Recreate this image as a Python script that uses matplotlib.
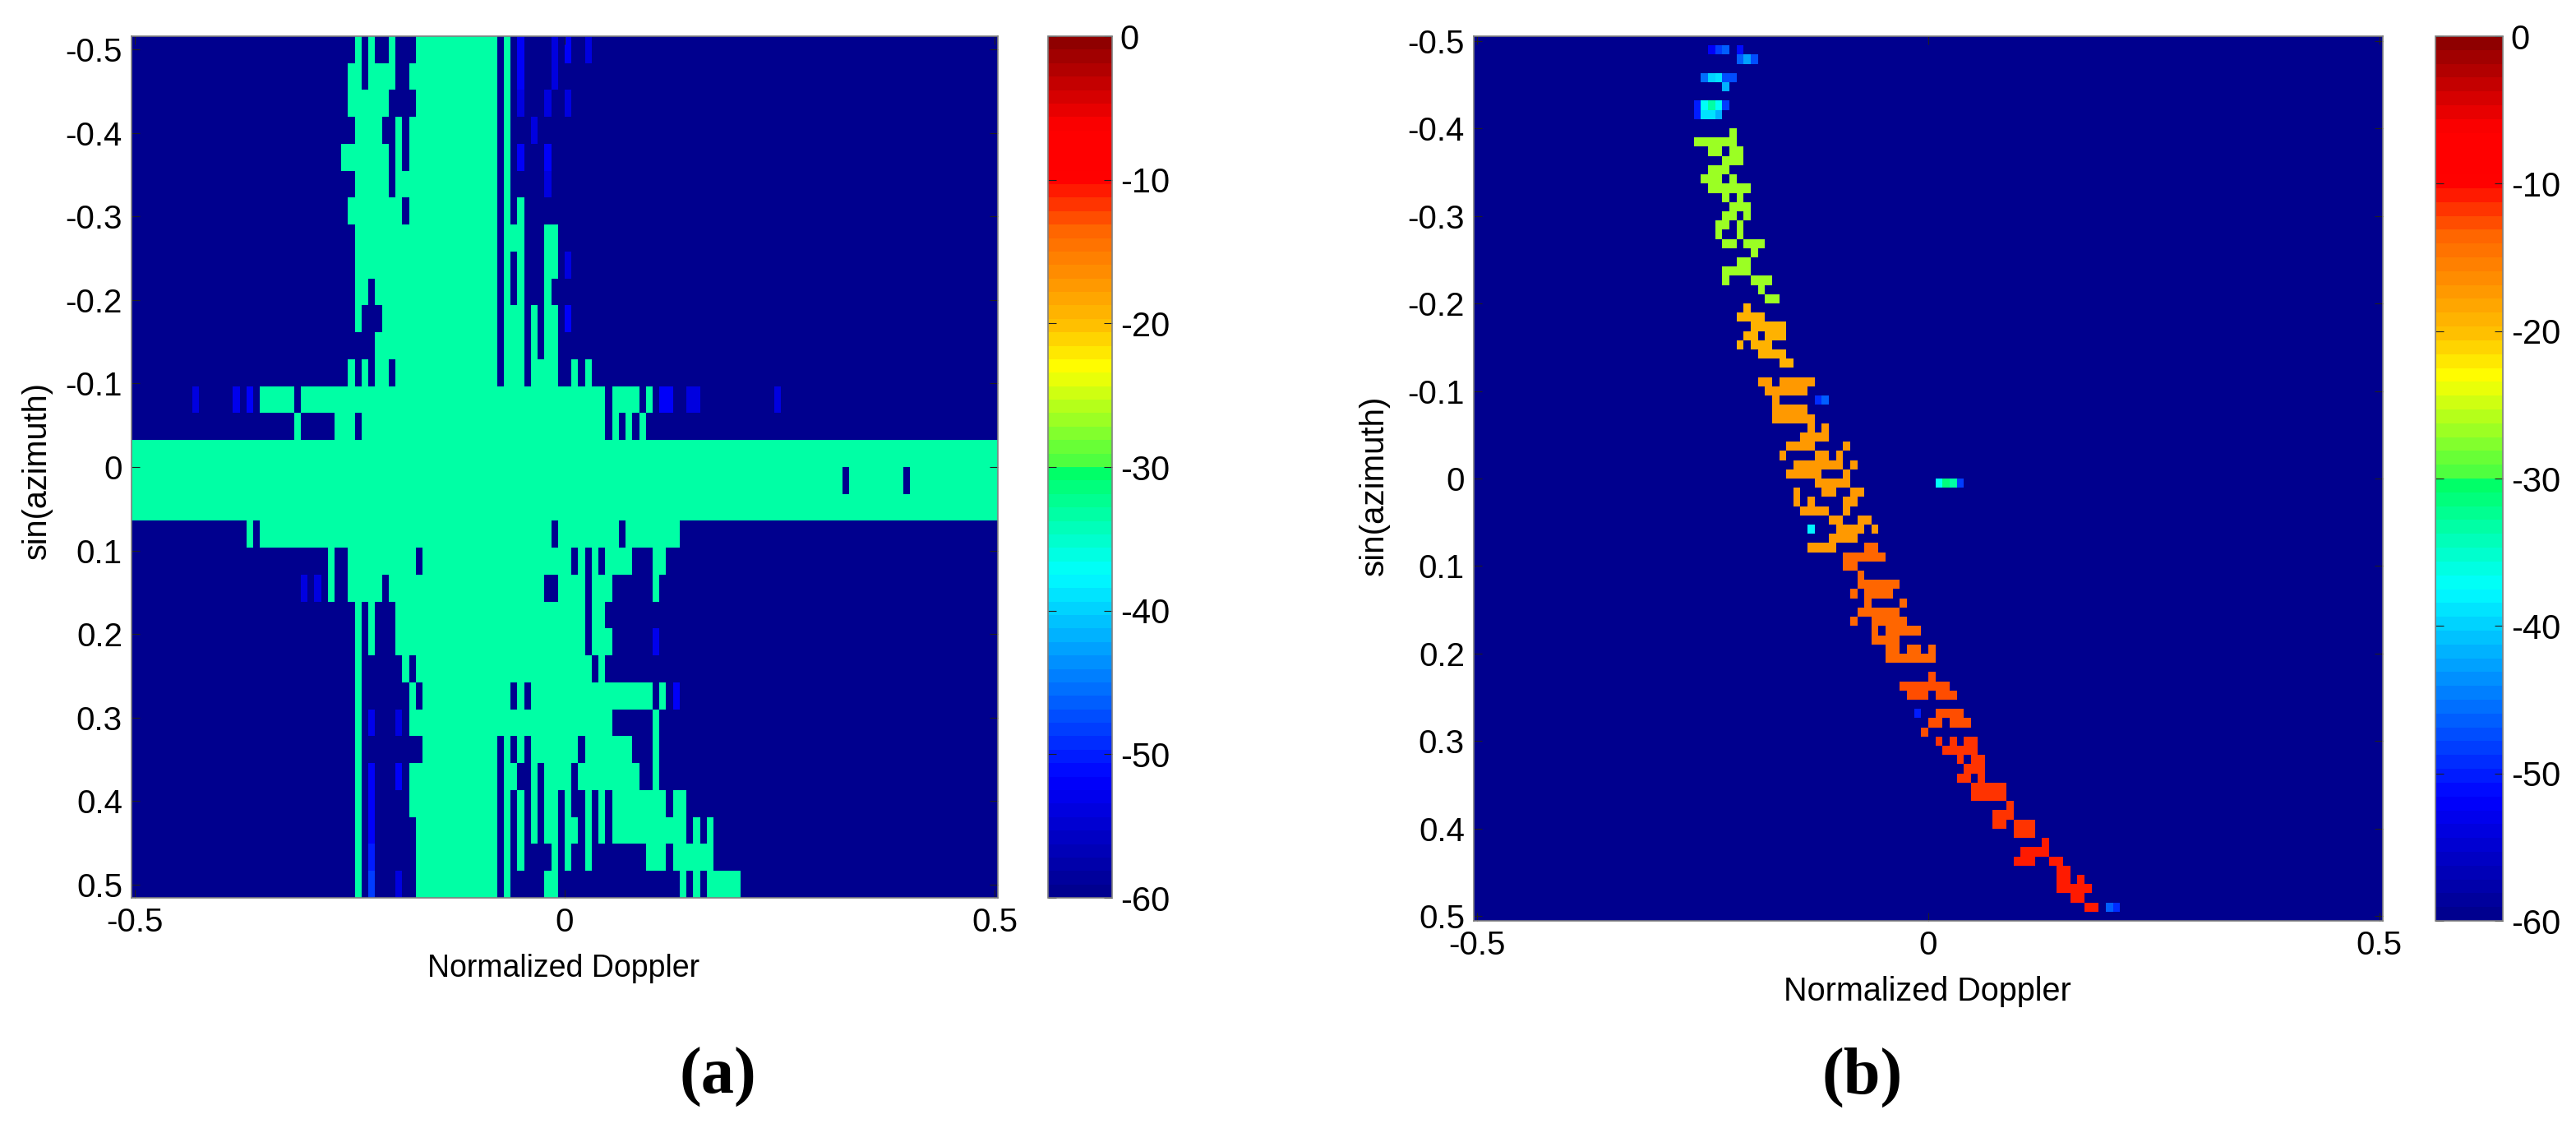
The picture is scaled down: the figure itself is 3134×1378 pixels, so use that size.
import numpy as np
import matplotlib
matplotlib.use("Agg")
import matplotlib.pyplot as plt
from matplotlib.colors import LinearSegmentedColormap

plt.rcParams['font.family'] = ['Liberation Sans', 'DejaVu Sans']

# panel (a): green runs per row, start/stop column (stop not included)
a_green = [
    [(33,34),(35,36),(38,39),(42,54),(55,56)],
    [(32,34),(35,39),(41,54),(55,56)],
    [(32,38),(42,54),(55,56)],
    [(33,37),(39,40),(41,54),(55,56)],
    [(31,38),(39,40),(41,54),(55,56)],
    [(33,38),(39,54),(55,56)],
    [(32,40),(41,54),(55,56),(57,58)],
    [(33,54),(55,58),(61,63)],
    [(33,54),(55,56),(57,58),(61,63)],
    [(33,35),(36,54),(55,56),(57,58),(61,62)],
    [(33,34),(37,54),(55,58),(59,60),(61,63)],
    [(36,54),(55,58),(59,60),(61,63)],
    [(32,33),(34,35),(36,38),(39,54),(55,58),(59,63),(65,66),(67,68)],
    [(19,24),(25,70),(71,75),(76,77)],
    [(24,25),(30,33),(34,70),(71,72),(73,74),(75,76)],
    [(0,128)],
    [(0,105),(106,114),(115,128)],
    [(0,128)],
    [(17,18),(19,62),(63,72),(73,81)],
    [(29,30),(32,42),(43,65),(66,67),(68,69),(70,74),(77,79)],
    [(29,30),(32,37),(38,61),(63,67),(68,71),(77,78)],
    [(33,34),(35,36),(39,67),(68,70)],
    [(33,34),(35,36),(39,67),(68,71)],
    [(33,34),(40,41),(42,68),(69,70)],
    [(33,34),(41,42),(43,56),(57,58),(59,77),(78,79)],
    [(33,34),(41,71),(77,78)],
    [(33,34),(43,54),(55,56),(57,58),(59,66),(67,74),(77,78)],
    [(33,34),(41,54),(55,57),(59,60),(61,65),(66,75),(77,78)],
    [(33,34),(41,54),(55,56),(57,58),(59,60),(61,63),(64,65),(67,68),(69,70),(71,79),(80,82)],
    [(33,34),(42,54),(55,56),(57,58),(59,60),(61,63),(64,66),(67,68),(69,70),(71,82),(83,84),(85,86)],
    [(33,34),(42,54),(55,56),(57,58),(62,63),(64,65),(67,68),(76,79),(80,86)],
    [(33,34),(42,54),(55,56),(61,63),(81,82),(83,84),(85,90)],
]
a_green_level = -33
# row, start, stop, dB
a_blue = [
    (0,57,58,-52.5),(0,62,63,-54),(0,64,65,-52.5),(0,67,68,-54),
    (1,57,58,-52.5),(1,62,63,-54),
    (2,57,58,-54),(2,61,62,-54),(2,64,65,-54),
    (3,59,60,-54),
    (4,57,58,-52.5),(4,61,62,-52.5),
    (5,61,62,-54),
    (8,64,65,-54),
    (10,64,65,-52.5),
    (13,9,10,-53.5),(13,15,16,-53),(13,17,18,-52.5),(13,78,80,-52.5),(13,82,84,-54),(13,95,96,-54),
    (20,25,26,-54),(20,27,28,-54),
    (22,77,78,-53),
    (24,80,81,-52.5),
    (25,35,36,-53),(25,39,40,-54),
    (27,35,36,-52.5),(27,39,40,-52.5),
    (28,35,36,-52),(29,35,36,-52),(30,35,36,-50),
    (31,35,36,-48.5),(31,39,40,-54),
]

# panel (b): the target track, row, start, stop for each level
b_lime = [
    (10,36,37),(11,31,37),(12,33,35),(12,36,38),(13,35,38),(14,33,36),(15,32,35),(15,36,37),
    (16,33,39),(17,35,36),(17,37,38),(18,36,39),(19,35,37),(19,38,39),(20,34,36),(20,37,38),
    (21,34,35),(21,37,38),(22,35,37),(22,38,41),(23,39,40),(24,37,39),(25,35,39),
    (26,35,36),(26,39,42),(27,40,41),(28,41,43),
]
b_yellow = [
    (29,38,39),(30,37,41),(31,39,44),(32,38,40),(32,41,44),(33,37,38),(33,39,42),(34,40,44),(35,43,45),
]
b_orange = [
    (37,40,42),(37,43,48),(38,41,47),(39,42,43),(40,42,47),(41,42,48),(42,47,48),(42,49,50),
    (43,46,50),(44,44,48),(44,52,53),(45,43,44),(45,48,50),(45,51,52),(46,45,52),(46,53,54),
    (47,44,49),(47,52,53),(48,48,53),(49,45,46),(49,49,51),(49,53,55),(50,45,46),(50,47,48),
    (50,52,54),(51,46,50),(51,52,53),(52,50,52),(52,54,56),(53,51,55),(53,56,57),(54,50,54),
    (55,47,51),
]
b_dark_orange = [
    (55,55,57),(56,52,58),(57,52,54),(58,54,55),(59,54,60),(60,53,54),(60,55,59),(61,55,56),
    (61,60,61),(62,54,60),(63,53,54),(63,56,61),(64,56,57),(64,58,63),(65,56,60),(66,58,60),
    (66,61,63),(66,64,65),(67,58,65),
]
b_red_orange = [
    (69,64,65),(70,60,67),(71,61,64),(71,65,68),(73,65,69),(74,64,66),(74,67,70),(75,63,64),
]
b_orange_red = [
    (76,65,66),(76,67,68),(76,69,71),(77,66,71),(78,68,69),(78,70,72),(79,69,72),(80,68,70),
    (80,71,72),(81,70,75),(82,70,75),(83,75,76),(84,73,76),(85,73,75),(85,76,79),(86,76,79),
]
b_red = [
    (87,80,81),(88,77,81),(89,76,79),(89,81,83),(90,82,84),(91,82,84),(91,85,86),(92,82,87),
    (93,84,86),(94,86,88),
]
b_levels = [-26.5, -18.9, -16.9, -13.3, -12.6, -11.4, -10.7]
# single cells: row, column, dB
b_faint = [
    (1,33,-52),(1,34,-48),(1,35,-46.5),(1,37,-51.5),
    (2,37,-46),(2,38,-43),(2,39,-47.5),
    (4,32,-45.5),(4,33,-40),(4,34,-39),(4,35,-47),(4,36,-47),
    (5,35,-42),
    (7,31,-50),(7,32,-37.5),(7,33,-33),(7,34,-37.5),(7,35,-48),
    (8,31,-50.5),(8,32,-39),(8,33,-39),(8,34,-42),
    (39,48,-49),(39,49,-46.5),
    (48,65,-37.5),(48,66,-31),(48,67,-33),(48,68,-48),
    (53,47,-38),
    (73,62,-50),
    (94,89,-46.5),(94,90,-49),
]

floor_db = -60
x_ticks = [-0.5, 0, 0.5]
x_labels = ['-0.5', '0', '0.5']
y_ticks = [-0.5, -0.4, -0.3, -0.2, -0.1, 0, 0.1, 0.2, 0.3, 0.4, 0.5]
y_labels = ['-0.5', '-0.4', '-0.3', '-0.2', '-0.1', '0', '0.1', '0.2', '0.3', '0.4', '0.5']
cbar_ticks = [-60, -50, -40, -30, -20, -10, 0]
cbar_labels = ['-60', '-50', '-40', '-30', '-20', '-10', '0']

# jet-like map from the colorbar, it jumps at -30
jet_nodes = [
    (0.0, (0, 0, 0.56)),
    (0.133, (0, 0, 1)),
    (0.375, (0, 1, 1)),
    (0.4935, (0, 1, 0.4)),
    (0.5065, (0.3, 1, 0.25)),
    (0.617, (1, 1, 0)),
    (0.667, (1, 0.75, 0)),
    (0.778, (1, 0.4, 0)),
    (0.842, (1, 0, 0)),
    (0.9, (1, 0, 0)),
    (1.0, (0.56, 0, 0)),
]
cmap = LinearSegmentedColormap.from_list('bar_jet', jet_nodes, N=64)

W, H = 3134, 1378
GRID = '#808080'


def box(left, top, right, bottom):
    return fig.add_axes([left / W, 1 - bottom / H, (right - left) / W, (bottom - top) / H])


def draw_panel(ax, cax, img, xlab_y, ylab_x, ylab_y, xsize, ysize):
    nr, nc = img.shape
    xe = 0.5 + 0.5 / (nc - 1)
    ye = 0.5 + 0.5 / (nr - 1)
    im = ax.imshow(img, extent=[-xe, xe, ye, -ye], aspect='auto', cmap=cmap,
                   vmin=-60, vmax=0, interpolation='nearest')
    ax.set_xticks(x_ticks)
    ax.set_xticklabels(x_labels)
    ax.set_yticks(y_ticks)
    ax.set_yticklabels(y_labels)
    ax.tick_params(direction='in', length=7, width=0.8, color='#202020', top=True, right=True,
                   labelsize=29, pad=8)
    for s in ax.spines.values():
        s.set_color(GRID)
        s.set_linewidth(1.2)
    p = ax.get_position()
    fig.text((p.x0 + p.x1) / 2 - 1 / W, 1 - xlab_y / H, 'Normalized Doppler', fontsize=xsize,
             ha='center', va='center')
    fig.text(ylab_x / W, 1 - ylab_y / H, 'sin(azimuth)', fontsize=ysize, rotation=90,
             ha='center', va='center')

    cb = fig.colorbar(im, cax=cax)
    cb.set_ticks(cbar_ticks)
    cb.set_ticklabels(cbar_labels)
    cax.tick_params(direction='in', length=7, width=0.8, color='#202020', left=True, right=True,
                    labelsize=30, pad=7)
    cb.outline.set_edgecolor(GRID)
    cb.outline.set_linewidth(1.2)


img_a = np.full((32, 128), floor_db, dtype=float)
for r, runs in enumerate(a_green):
    for start, stop in runs:
        img_a[r, start:stop] = a_green_level
for r, start, stop, v in a_blue:
    img_a[r, start:stop] = v

img_b = np.full((96, 128), floor_db, dtype=float)
b_groups = [b_lime, b_yellow, b_orange, b_dark_orange, b_red_orange, b_orange_red, b_red]
for runs, level in zip(b_groups, b_levels):
    for r, start, stop in runs:
        img_b[r, start:stop] = level
for r, c, v in b_faint:
    img_b[r, c] = v

fig = plt.figure(figsize=(W / 100, H / 100), dpi=100)

ax1 = box(160, 44, 1214, 1092)
cax1 = box(1275, 44, 1353, 1092)
draw_panel(ax1, cax1, img_a, 1178, 45, 572, 27, 28.5)

ax2 = box(1793, 44, 2899, 1120)
cax2 = box(2963, 44, 3045, 1120)
draw_panel(ax2, cax2, img_b, 1206, 1672, 590, 28.5, 29)

fig.text(873 / W, 1 - 1310 / H, '(a)', fontsize=58, fontweight='bold', family='Liberation Serif',
         ha='center', va='center')
fig.text(2266 / W, 1 - 1310 / H, '(b)', fontsize=58, fontweight='bold', family='Liberation Serif',
         ha='center', va='center')

fig.savefig('out.png', dpi=100)
